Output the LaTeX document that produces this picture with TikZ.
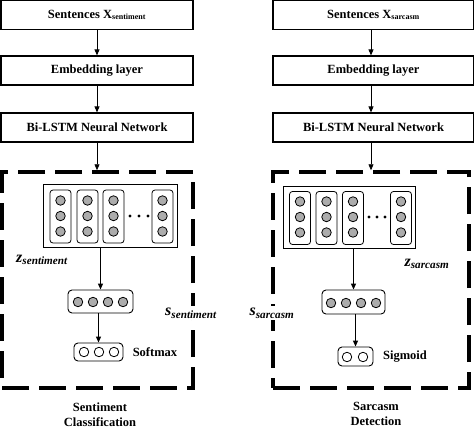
\documentclass[tikz,border=0pt]{standalone}
\usepackage{fontspec}
\setmainfont{Liberation Serif}
\usetikzlibrary{arrows.meta}
\begin{document}
\begin{tikzpicture}[x=1pt,y=-1pt,
  layerbox/.style={draw, line width=1.2pt, minimum height=29pt, inner sep=0pt,
    font=\fontsize{12.5}{15}\selectfont\bfseries},
  arr/.style={-{Triangle[length=6pt,width=5pt]}, line width=0.7pt},
  arrb/.style={-{Triangle[length=6pt,width=5pt]}, line width=1.1pt},
  dashbox/.style={draw, line width=3.5pt, dash pattern=on 27pt off 10pt, inner sep=0pt},
  matbox/.style={draw, line width=0.8pt, inner sep=0pt},
  colbox/.style={draw, rounded corners=3pt, line width=0.8pt, minimum width=21pt, minimum height=53pt, inner sep=0pt},
  vecbox/.style={draw, rounded corners=4pt, line width=0.9pt, inner sep=0pt},
  neuron/.style={circle, draw, line width=0.8pt, fill=gray!65, minimum size=9.5pt, inner sep=0pt},
  outneuron/.style={circle, draw, line width=0.8pt, fill=white, minimum size=9.5pt, inner sep=0pt},
  dotn/.style={circle, fill=black, minimum size=3.2pt, inner sep=0pt},
  lbl/.style={font=\fontsize{12.5}{15}\selectfont\bfseries},
  mlbl/.style={font=\fontsize{16}{16}\selectfont\bfseries\itshape, inner sep=0pt},
  slbl/.style={mlbl, fill=white, inner sep=2pt},
  caption/.style={font=\fontsize{12.5}{15}\selectfont\bfseries, align=center}
]
\useasboundingbox (0,0) rectangle (474,431);

% ---------------- left column ----------------
\node[layerbox, minimum width=192pt] (sL) at (97,15) {Sentences X\textsubscript{\fontsize{8}{8}\selectfont sentiment}};
\node[layerbox, minimum width=192pt] (eL) at (97,70.5) {Embedding layer};
\node[layerbox, minimum width=192pt] (bL) at (97,127.5) {Bi-LSTM Neural Network};
\node[dashbox, minimum width=191pt, minimum height=216pt] (dL) at (97.5,280) {};
\draw[arr] (sL) -- (eL);
\draw[arr] (eL) -- (bL);
\draw[arr] (bL.south) -- (bL.south |- dL.north);

\node[matbox, minimum width=134pt, minimum height=63pt] (mL) at (110,215.5) {};
\foreach \i/\x in {1/60.5,2/87.5,3/113.5,4/162.5}{
  \node[colbox] (cL\i) at (\x,216.5) {};
  \node[neuron] (nL\i a) at (\x,200.5) {};
  \node[neuron] (nL\i b) at (\x,216) {};
  \node[neuron] (nL\i c) at (\x,231.5) {};
}
\node[dotn] (dL1) at (130,216) {};
\node[dotn] (dL2) at (139,216) {};
\node[dotn] (dL3) at (148,216) {};
\node[mlbl] (zL) at (42,260) {z\textsubscript{sentiment}};

\node[vecbox, minimum width=65pt, minimum height=23pt] (vL) at (100.5,301.5) {};
\foreach \i/\x in {1/78,2/93,3/108,4/123}{
  \node[neuron] (vL\i) at (\x,302) {};
}
\draw[arrb] (mL.south -| vL.north) -- (vL.north);
\node[slbl] (sLab) at (191,313) {s\textsubscript{sentiment}};

\node[vecbox, minimum width=49pt, minimum height=18pt] (oL) at (98.5,352) {};
\foreach \i/\x in {1/84,2/99,3/114}{
  \node[outneuron] (oL\i) at (\x,352) {};
}
\draw[arrb] (vL.south -| oL.north) -- (oL.north);
\node[lbl] (smx) at (155,352) {Softmax};
\node[caption] (capL) at (100,414.5) {Sentiment\\Classification};

% ---------------- right column ----------------
\node[layerbox, minimum width=201pt] (sR) at (373.5,15) {Sentences X\textsubscript{\fontsize{8}{8}\selectfont sarcasm}};
\node[layerbox, minimum width=201pt] (eR) at (373.5,70.5) {Embedding layer};
\node[layerbox, minimum width=201pt] (bR) at (373.5,127.5) {Bi-LSTM Neural Network};
\node[dashbox, minimum width=196pt, minimum height=216pt] (dR) at (371,280) {};
\coordinate (aR) at (371,0);
\draw[arr] (aR |- sR.south) -- (aR |- eR.north);
\draw[arr] (aR |- eR.south) -- (aR |- bR.north);
\draw[arr] (aR |- bR.south) -- (aR |- dR.north);

\node[matbox, minimum width=132pt, minimum height=62pt] (mR) at (349,217) {};
\foreach \i/\x in {1/300,2/326.5,3/353,4/401}{
  \node[colbox] (cR\i) at (\x,218) {};
  \node[neuron] (nR\i a) at (\x,201.5) {};
  \node[neuron] (nR\i b) at (\x,217) {};
  \node[neuron] (nR\i c) at (\x,232.5) {};
}
\node[dotn] (dR1) at (369,217) {};
\node[dotn] (dR2) at (377,217) {};
\node[dotn] (dR3) at (385,217) {};
\node[mlbl] (zR) at (427,264) {z\textsubscript{sarcasm}};

\node[vecbox, minimum width=63pt, minimum height=24pt] (vR) at (353.5,302) {};
\foreach \i/\x in {1/331,2/346,3/361,4/376}{
  \node[neuron] (vR\i) at (\x,303) {};
}
\draw[arrb] (mR.south -| vR.north) -- (vR.north);
\node[slbl] (sRab) at (272,313) {s\textsubscript{sarcasm}};

\node[vecbox, minimum width=35pt, minimum height=19pt] (oR) at (355.5,356.5) {};
\foreach \i/\x in {1/347,2/363}{
  \node[outneuron] (oR\i) at (\x,357) {};
}
\draw[arrb] (vR.south -| oR.north) -- (oR.north);
\node[lbl] (sgm) at (405,357) {Sigmoid};
\node[caption] (capR) at (376,414) {Sarcasm\\Detection};
\end{tikzpicture}
\end{document}
